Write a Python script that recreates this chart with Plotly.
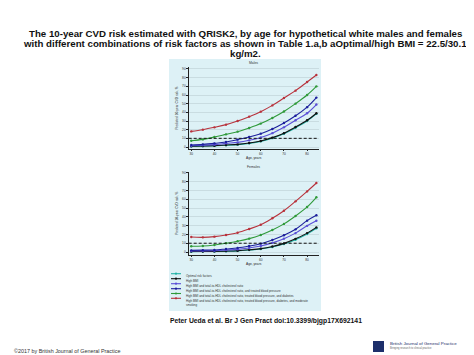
import plotly.graph_objects as go

# ---------------- data ----------------
ages = [30, 35, 40, 45, 50, 55, 60, 65, 70, 75, 80, 84]

series_names = [
    "Optimal risk factors",
    "High BMI",
    "High BMI and total-to-HDL cholesterol ratio",
    "High BMI and total-to-HDL cholesterol ratio, and treated blood pressure",
    "High BMI and total-to-HDL cholesterol ratio, treated blood pressure, and diabetes",
    "High BMI and total-to-HDL cholesterol ratio, treated blood pressure, diabetes, and moderate<br>smoking",
]
series_colors = ["#22b3a6", "#111111", "#5a4fd6", "#1c1f9c", "#2f9a3a", "#b8323c"]

males_optimal = [0.7, 1.0, 1.3, 2.0, 2.7, 4.2, 6.5, 10.2, 15.3, 22.2, 30.0, 38.2]
males_bmi = [0.8, 1.2, 1.5, 2.3, 3.0, 4.6, 7.0, 10.8, 16.0, 23.0, 30.8, 39.0]
males_chol = [1.5, 2.0, 2.7, 4.2, 5.4, 7.7, 11.0, 16.0, 22.7, 30.8, 39.0, 49.0]
males_bp = [2.3, 3.0, 4.2, 5.8, 8.5, 11.5, 15.4, 20.8, 27.7, 36.0, 46.0, 57.0]
males_diab = [7.3, 8.8, 11.5, 14.6, 17.7, 22.0, 27.0, 33.5, 41.0, 50.0, 60.0, 70.0]
males_smok = [18.0, 20.0, 22.7, 25.8, 30.0, 35.0, 40.8, 48.0, 56.5, 65.0, 75.0, 83.0]

females_optimal = [0.4, 0.5, 0.6, 0.9, 1.3, 2.2, 3.4, 5.6, 9.0, 14.0, 20.5, 27.0]
females_bmi = [0.5, 0.6, 0.7, 1.0, 1.5, 2.5, 3.8, 6.2, 9.8, 15.0, 21.5, 28.0]
females_chol = [1.2, 1.3, 1.5, 2.2, 3.0, 4.6, 6.8, 10.4, 15.2, 21.5, 29.8, 35.5]
females_bp = [1.9, 2.1, 2.3, 3.4, 4.6, 6.8, 9.5, 13.7, 19.0, 25.8, 35.7, 41.8]
females_diab = [6.5, 6.8, 8.0, 9.9, 12.2, 15.2, 19.4, 25.0, 32.0, 41.0, 51.3, 62.3]
females_smok = [17.0, 16.7, 17.5, 19.4, 22.0, 26.2, 31.0, 38.4, 47.0, 57.7, 69.0, 78.6]

males = [males_optimal, males_bmi, males_chol, males_bp, males_diab, males_smok]
females = [females_optimal, females_bmi, females_chol, females_bp, females_diab, females_smok]

threshold = 10
y_ticks = [0, 10, 20, 30, 40, 50, 60, 70, 80, 90]
x_ticks = [30, 40, 50, 60, 70, 80]

# ---------------- layout helpers ----------------
W, H = 474, 355
FONT = "Liberation Sans, Arial, sans-serif"
PANEL = "#ddf1f6"


def fx(px):
    return px / W


def fy(py):
    return 1 - py / H


fig = go.Figure()

for i, (name, col) in enumerate(zip(series_names, series_colors)):
    for vals, xa, ya in [(males[i], "x", "y"), (females[i], "x2", "y2")]:
        fig.add_trace(go.Scatter(
            x=ages, y=vals, xaxis=xa, yaxis=ya, mode="lines+markers",
            name=name, showlegend=False,
            line=dict(color=col, width=1.1, shape="spline"),
            marker=dict(color=col, size=2.4, symbol="circle"),
        ))

axis_common = dict(
    showline=True, linecolor="#222222", linewidth=0.8,
    ticks="outside", ticklen=1.5, tickwidth=0.6, tickcolor="#222222",
    tickfont=dict(size=3.2, color="#333333", family=FONT),
    zeroline=False,
)

xdom = [fx(180.7), fx(310.7)]
fig.update_layout(
    width=W, height=H,
    margin=dict(l=0, r=0, t=0, b=0),
    paper_bgcolor="white",
    plot_bgcolor=PANEL,
    font=dict(family=FONT, color="#222222"),
    showlegend=False,
    xaxis=dict(domain=xdom, range=[28.9, 85], tickvals=x_ticks, anchor="y",
               showgrid=False,
               title=dict(text="Age, years", font=dict(size=3.2), standoff=1),
               **axis_common),
    yaxis=dict(domain=[fy(141), fy(59)], range=[-2.3, 92.3], tickvals=y_ticks,
               anchor="x", showgrid=True, gridcolor="#c9dce1", gridwidth=0.5,
               title=dict(text="Predicted 10-year CVD risk, %", font=dict(size=3.2), standoff=3),
               **axis_common),
    xaxis2=dict(domain=xdom, range=[28.9, 85], tickvals=x_ticks, anchor="y2",
                showgrid=False,
                title=dict(text="Age, years", font=dict(size=3.2), standoff=1),
                **axis_common),
    yaxis2=dict(domain=[fy(246.5), fy(164)], range=[-2.85, 91.1], tickvals=y_ticks,
                anchor="x2", showgrid=True, gridcolor="#c9dce1", gridwidth=0.5,
                title=dict(text="Predicted 10-year CVD risk, %", font=dict(size=3.2), standoff=3),
                **axis_common),
)

# threshold dashed lines
for xr, yr in [("x", "y"), ("x2", "y2")]:
    fig.add_shape(type="line", xref=f"{xr} domain", yref=yr, x0=0, x1=1,
                  y0=threshold, y1=threshold,
                  line=dict(color="#111111", width=1.0, dash="3px,2px"))

# panel background
fig.add_shape(type="rect", xref="paper", yref="paper",
              x0=fx(161), x1=fx(313), y0=fy(303), y1=fy(51),
              fillcolor=PANEL, line=dict(width=0), layer="below")

# title
title_lines = [
    "The 10-year CVD risk estimated with QRISK2, by age for hypothetical white males and females",
    "with different combinations of risk factors as shown in Table 1.a,b aOptimal/high BMI = 22.5/30.1",
    "kg/m2.",
]
for line, py in zip(title_lines, [25, 35.5, 45.5]):
    fig.add_annotation(text=f"<b>{line}</b>", xref="paper", yref="paper",
                       x=fx(237), y=fy(py), showarrow=False,
                       xanchor="center", yanchor="middle",
                       font=dict(size=9.7, color="#111111", family=FONT))

# panel subtitles
for txt, py in [("Males", 55), ("Females", 159)]:
    fig.add_annotation(text=txt, xref="paper", yref="paper", x=fx(245.7), y=fy(py),
                       showarrow=False, xanchor="center", yanchor="middle",
                       font=dict(size=3.4, color="#333333", family=FONT))

# legend (drawn manually below the lower panel)
leg_y = [265.7, 270.7, 275.7, 280.7, 285.5, 290.3]
for name, col, py in zip(series_names, series_colors, leg_y):
    fig.add_shape(type="line", xref="paper", yref="paper",
                  x0=fx(163), x1=fx(173), y0=fy(py), y1=fy(py),
                  line=dict(color=col, width=1.1))
    fig.add_shape(type="circle", xref="paper", yref="paper",
                  x0=fx(166.9), x1=fx(169.1), y0=fy(py + 1.1), y1=fy(py - 1.1),
                  fillcolor=col, line=dict(width=0))
    fig.add_annotation(text=name, xref="paper", yref="paper", x=fx(175.5), y=fy(py - 1.6),
                       showarrow=False, xanchor="left", yanchor="top", align="left",
                       font=dict(size=3.0, color="#333333", family=FONT))

# footer
fig.add_annotation(text="<b>Peter Ueda et al. Br J Gen Pract doi:10.3399/bjgp17X692141</b>",
                   xref="paper", yref="paper", x=fx(160), y=fy(313), showarrow=False,
                   xanchor="left", yanchor="middle",
                   font=dict(size=6.8, color="#111111", family=FONT))
fig.add_annotation(text="©2017 by British Journal of General Practice",
                   xref="paper", yref="paper", x=fx(4), y=fy(343.3), showarrow=False,
                   xanchor="left", yanchor="middle",
                   font=dict(size=5.4, color="#333333", family=FONT))

# logo
fig.add_shape(type="rect", xref="paper", yref="paper",
              x0=fx(365), x1=fx(376), y0=fy(344), y1=fy(333),
              fillcolor="#1d2f6b", line=dict(width=0))
fig.add_annotation(text="British Journal of General Practice", xref="paper", yref="paper",
                   x=fx(380), y=fy(335.5), showarrow=False, xanchor="left", yanchor="middle",
                   font=dict(size=4.4, color="#1d2f6b", family=FONT))
fig.add_annotation(text="Bringing research to clinical practice", xref="paper", yref="paper",
                   x=fx(380), y=fy(340), showarrow=False, xanchor="left", yanchor="middle",
                   font=dict(size=2.6, color="#666666", family=FONT))

fig.write_html("out.html")
